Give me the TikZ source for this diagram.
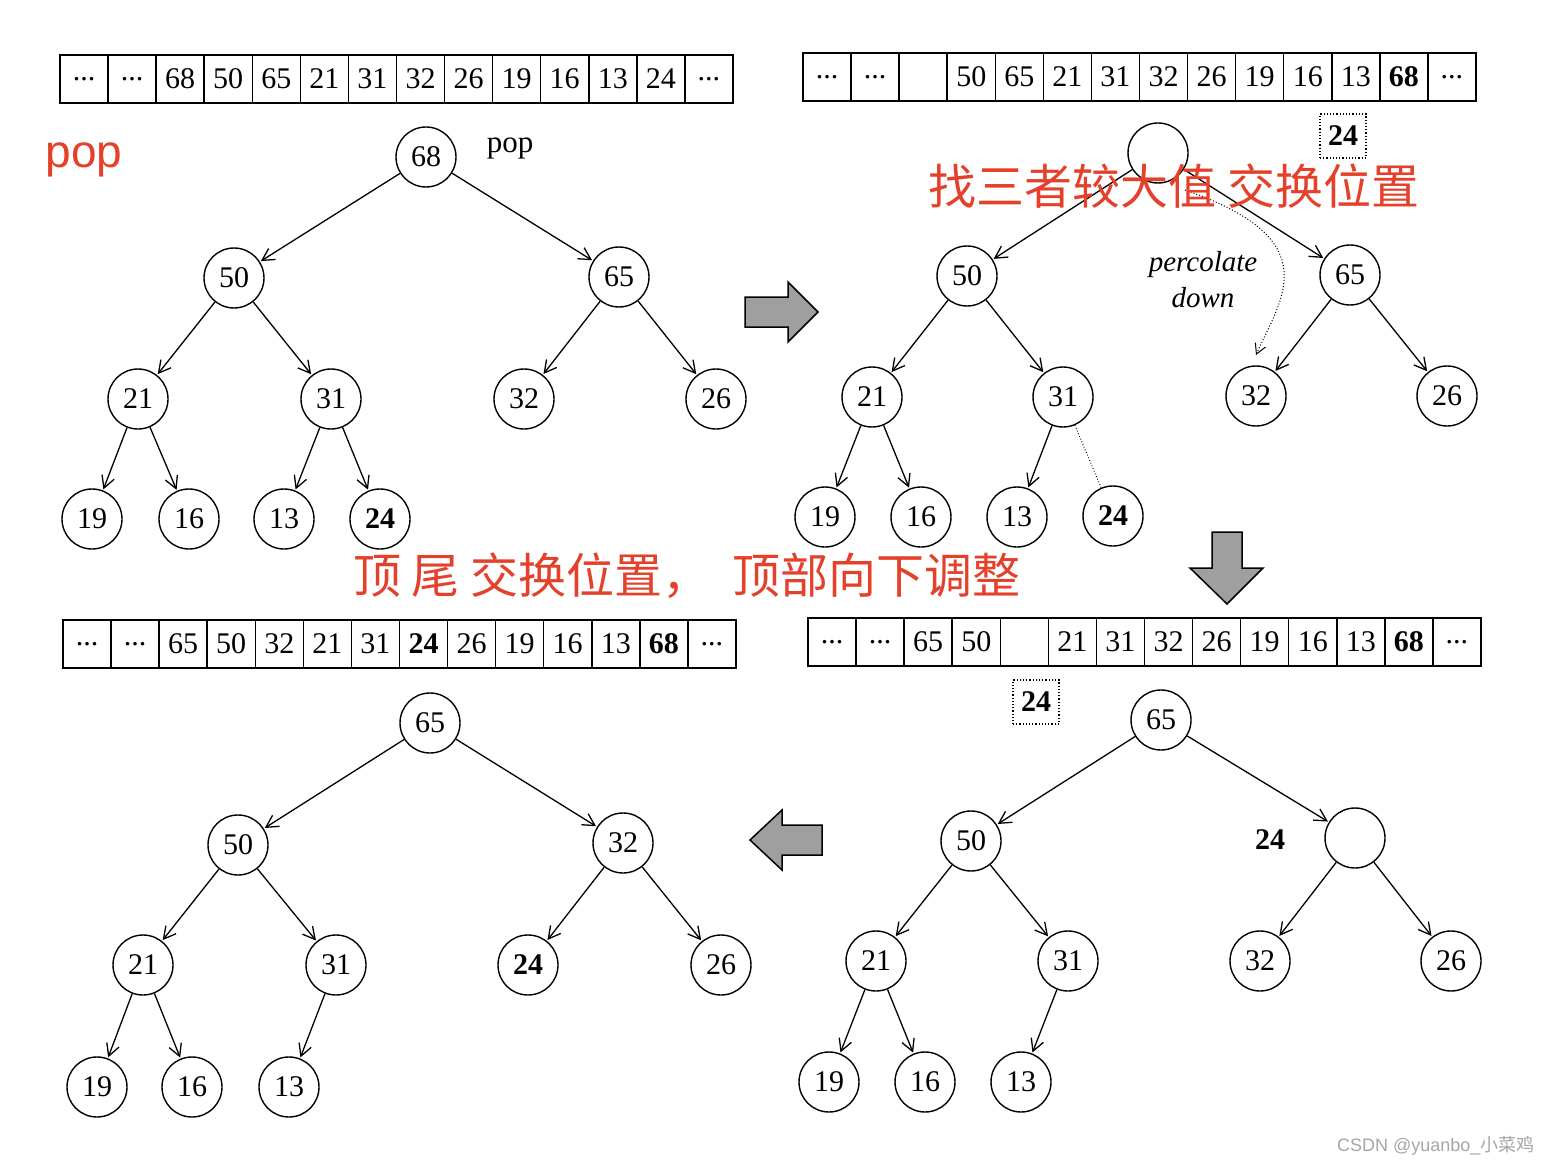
\documentclass[tikz,border=0pt]{standalone}
\usepackage{fontspec}
\setmainfont{Liberation Serif}
\newfontfamily\cjk{Noto Sans CJK SC}
\newfontfamily\lsans{Liberation Sans}
\usetikzlibrary{arrows.meta}
\definecolor{redtxt}{RGB}{228,64,42}
\newcommand{\dd}{...}
\tikzset{
  hn/.style={circle,draw,line width=1.4pt,minimum size=60pt,inner sep=0pt,font=\fontsize{30}{30}\selectfont},
  ed/.style={-{Straight Barb[length=12pt,width=13pt]},line width=1.3pt,shorten >=1pt},
  cell/.style={draw,line width=1.5pt,minimum width=48.07pt,minimum height=48pt,inner sep=0pt,font=\fontsize{30}{30}\selectfont},
  dbox/.style={draw,dotted,line width=1.2pt,minimum width=46pt,minimum height=44pt,inner sep=0pt,font=\fontsize{30}{30}\selectfont\bfseries},
  bigarrow/.style={draw,line width=1.5pt,fill=gray!75},
  red/.style={text=redtxt,font=\cjk\fontsize{48}{48}\selectfont,inner sep=0pt},
}
\newcommand{\arr}[4]{% prefix, x0, ycenter, list
  \foreach \t [count=\i] in {#4}{
    \node[cell] (#1\i) at ({#2+(\i-0.5)*48.07},#3) {\t};
  }}
\begin{document}
\begin{tikzpicture}[x=1pt,y=-1pt]
\useasboundingbox[fill=white] (0,0) rectangle (1552,1166);
% arrays
\arr{ta}{60}{79}{\dd,\dd,68,50,65,21,31,32,26,19,16,13,24,\dd}
\arr{tb}{803}{77}{\dd,\dd,\phantom{0},50,65,21,31,32,26,19,16,13,\textbf{68},\dd}
\arr{ba}{63}{644}{\dd,\dd,65,50,32,21,31,\textbf{24},26,19,16,13,\textbf{68},\dd}
\arr{bb}{808}{642}{\dd,\dd,65,50,\phantom{0},21,31,32,26,19,16,13,\textbf{68},\dd}
% tree 1
\node[hn] (a1) at (426,157) {68};
\node[hn] (a2) at (234,278) {50};
\node[hn] (a3) at (619,277) {65};
\node[hn] (a4) at (138,399) {21};
\node[hn] (a5) at (331,399) {31};
\node[hn] (a6) at (524,399) {32};
\node[hn] (a7) at (716,399) {26};
\node[hn] (a8) at (92,519) {19};
\node[hn] (a9) at (189,519) {16};
\node[hn] (a10) at (284,519) {13};
\node[hn] (a11) at (380,519) {\textbf{24}};
\foreach \p/\c in {1/2,1/3,2/4,2/5,3/6,3/7,4/8,4/9,5/10,5/11} \draw[ed] (a\p) -- (a\c);
\node[font=\fontsize{31}{31}\selectfont] (popa) at (510,148) {pop};
% tree 2
\node[hn] (b1) at (1158,153) {};
\node[hn] (b2) at (967,276) {50};
\node[hn] (b3) at (1350,275) {65};
\node[hn] (b4) at (872,397) {21};
\node[hn] (b5) at (1063,397) {31};
\node[hn] (b6) at (1256,396) {32};
\node[hn] (b7) at (1447,396) {26};
\node[hn] (b8) at (825,517) {19};
\node[hn] (b9) at (921,517) {16};
\node[hn] (b10) at (1017,517) {13};
\node[hn] (b11) at (1113,516) {\textbf{24}};
\foreach \p/\c in {1/2,1/3,2/4,2/5,3/6,3/7,4/8,4/9,5/10} \draw[ed] (b\p) -- (b\c);
\draw[dotted,line width=0.9pt] (b5) -- (b11);
\node[dbox] (bx) at (1343,136) {24};
\node[font=\fontsize{29}{36}\selectfont\itshape,align=center] (perc) at (1203,280) {percolate\\down};
\coordinate (pc1) at (1185,190);
\coordinate (pc2) at (1256,355);
\draw[dotted,line width=1pt,-{Straight Barb[length=10pt,width=11pt]}] (pc1) .. controls (1330,240) and (1280,300) .. (pc2);
% tree 3 (bottom right)
\node[hn] (c1) at (1161,720) {65};
\node[hn] (c2) at (971,841) {50};
\node[hn] (c3) at (1355,838) {};
\node[hn] (c4) at (876,961) {21};
\node[hn] (c5) at (1068,961) {31};
\node[hn] (c6) at (1260,961) {32};
\node[hn] (c7) at (1451,961) {26};
\node[hn] (c8) at (829,1082) {19};
\node[hn] (c9) at (925,1082) {16};
\node[hn] (c10) at (1021,1082) {13};
\foreach \p/\c in {1/2,1/3,2/4,2/5,3/6,3/7,4/8,4/9,5/10} \draw[ed] (c\p) -- (c\c);
\node[font=\fontsize{30}{30}\selectfont\bfseries] (c24) at (1270,840) {24};
\node[dbox] (cx) at (1036,702) {24};
% tree 4 (bottom left)
\node[hn] (d1) at (430,723) {65};
\node[hn] (d2) at (238,845) {50};
\node[hn] (d3) at (623,843) {32};
\node[hn] (d4) at (143,965) {21};
\node[hn] (d5) at (336,965) {31};
\node[hn] (d6) at (528,965) {\textbf{24}};
\node[hn] (d7) at (721,965) {26};
\node[hn] (d8) at (97,1087) {19};
\node[hn] (d9) at (192,1087) {16};
\node[hn] (d10) at (289,1087) {13};
\foreach \p/\c in {1/2,1/3,2/4,2/5,3/6,3/7,4/8,4/9,5/10} \draw[ed] (d\p) -- (d\c);
% big arrows
\draw[bigarrow] (745,297) -- (788,297) -- (788,282) -- (818,312) -- (788,342) -- (788,327) -- (745,327) -- cycle;
\draw[bigarrow] (1212,532) -- (1242,532) -- (1242,568) -- (1263,568) -- (1227,604) -- (1190,568) -- (1212,568) -- cycle;
\draw[bigarrow] (822,825) -- (782,825) -- (782,810) -- (750,840) -- (782,870) -- (782,855) -- (822,855) -- cycle;
% red annotations
\node[red,font=\lsans\fontsize{46}{46}\selectfont] (rpop) at (84,160) {pop};
\node[red] (r1) at (1174,186) {找三者较大值 交换位置};
\node[red,anchor=west] (r2) at (353,576) {顶 尾 交换位置，\ \ 顶部向下调整};
\node[text=gray!70,font=\lsans\fontsize{18}{18}\selectfont,anchor=east] (wm) at (1538,1146) {CSDN @yuanbo\_\cjk 小菜鸡};
\end{tikzpicture}
\end{document}
